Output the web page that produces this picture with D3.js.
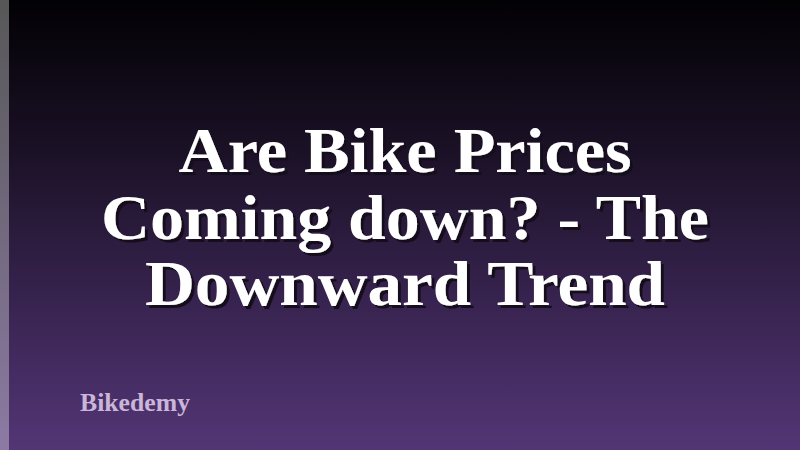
<!DOCTYPE html>
<html>
<head>
<meta charset="UTF-8" />
<title>Are Bike Prices Coming down?</title>
<script src="https://d3js.org/d3.v7.min.js"></script>
<style>
  body { margin: 0; overflow: hidden; background: #000; }
  .title { font-family: "Liberation Serif", "DejaVu Serif", serif; font-weight: bold; fill: #fff; }
  .brand { font-family: "Liberation Serif", "DejaVu Serif", serif; font-weight: bold; fill: #c9b6d9; }
</style>
</head>
<body>
<svg width="800" height="450"></svg>
<script>
  const width = 800, height = 450;

  // text content
  const titleLines = ["Are Bike Prices", "Coming down? - The", "Downward Trend"];
  const titleWidths = [453, 608, 520];  // measured line widths in the picture
  const brand = "Bikedemy";

  const svg = d3.select("svg");
  const defs = svg.append("defs");

  // background: black at top fading to purple at the bottom
  const bg = defs.append("linearGradient").attr("id", "bg")
    .attr("x1", 0).attr("y1", 0).attr("x2", 0).attr("y2", 1);
  bg.append("stop").attr("offset", "0%").attr("stop-color", "#020104");
  bg.append("stop").attr("offset", "35%").attr("stop-color", "#1c1228");
  bg.append("stop").attr("offset", "70%").attr("stop-color", "#3a2553");
  bg.append("stop").attr("offset", "100%").attr("stop-color", "#533575");

  const strip = defs.append("linearGradient").attr("id", "strip")
    .attr("x1", 0).attr("y1", 0).attr("x2", 0).attr("y2", 1);
  strip.append("stop").attr("offset", "0%").attr("stop-color", "#575757");
  strip.append("stop").attr("offset", "100%").attr("stop-color", "#8c7aa3");

  // hard dark shadow down-right of the title
  defs.append("filter").attr("id", "shadow")
    .attr("x", "-5%").attr("y", "-10%").attr("width", "110%").attr("height", "130%")
    .append("feDropShadow")
      .attr("dx", 3).attr("dy", 3).attr("stdDeviation", 0.4)
      .attr("flood-color", "#140a1e").attr("flood-opacity", 1);

  svg.append("rect").attr("width", width).attr("height", height).attr("fill", "url(#bg)");
  svg.append("rect").attr("width", 9).attr("height", height).attr("fill", "url(#strip)");

  // line positions
  const y = d3.scaleLinear().domain([0, titleLines.length - 1]).range([172, 305]);

  svg.append("g")
    .attr("filter", "url(#shadow)")
    .selectAll("text")
    .data(titleLines)
    .enter().append("text")
      .attr("class", "title")
      .attr("x", width / 2 + 5)
      .attr("y", (d, i) => y(i))
      .attr("text-anchor", "middle")
      .attr("font-size", 63)
      .attr("textLength", (d, i) => titleWidths[i])
      .attr("lengthAdjust", "spacingAndGlyphs")
      .text(d => d);

  svg.append("text")
    .attr("class", "brand")
    .attr("x", 80)
    .attr("y", 411)
    .attr("font-size", 26)
    .attr("textLength", 110)
    .attr("lengthAdjust", "spacingAndGlyphs")
    .text(brand);
</script>
</body>
</html>
